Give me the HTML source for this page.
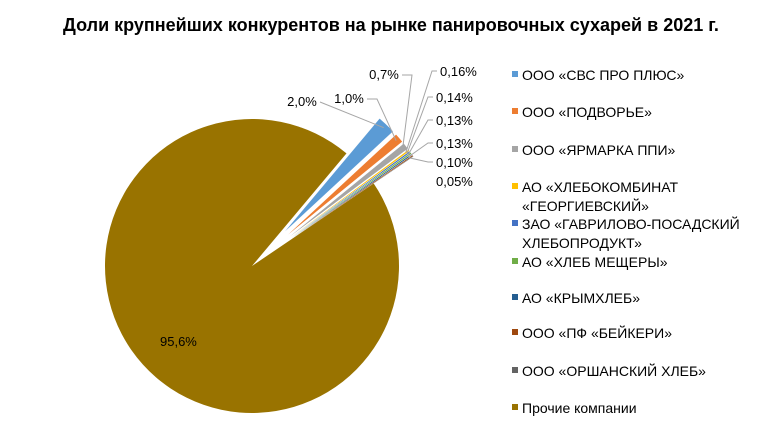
<!DOCTYPE html>
<html><head><meta charset="utf-8"><style>
body{margin:0;background:#fff;width:783px;height:435px;overflow:hidden;font-family:"Liberation Sans",sans-serif}
</style></head><body>
<svg id="chart" width="783" height="435">
<text x="391" y="31" text-anchor="middle" font-size="18" font-weight="bold" fill="#000">Доли крупнейших конкурентов на рынке панировочных сухарей в 2021 г.</text>
<g id="slices"></g><g id="leaders"></g><g id="labels"></g><g id="legend"></g>
</svg>
<script>
const categories=["ООО «СВС ПРО ПЛЮС»","ООО «ПОДВОРЬЕ»","ООО «ЯРМАРКА ППИ»","АО «ХЛЕБОКОМБИНАТ «ГЕОРГИЕВСКИЙ»","ЗАО «ГАВРИЛОВО-ПОСАДСКИЙ ХЛЕБОПРОДУКТ»","АО «ХЛЕБ МЕЩЕРЫ»","АО «КРЫМХЛЕБ»","ООО «ПФ «БЕЙКЕРИ»","ООО «ОРШАНСКИЙ ХЛЕБ»","Прочие компании"];
const values=[2.0,1.0,0.7,0.16,0.14,0.13,0.13,0.10,0.05,95.6];
const valueLabels=["2,0%","1,0%","0,7%","0,16%","0,14%","0,13%","0,13%","0,10%","0,05%","95,6%"];
const colors=["#5b9bd5","#ed7d31","#a5a5a5","#ffc000","#4472c4","#70ad47","#255e91","#9e480e","#636363","#997300"];
const legendLines=[["ООО «СВС ПРО ПЛЮС»"],["ООО «ПОДВОРЬЕ»"],["ООО «ЯРМАРКА ППИ»"],["АО «ХЛЕБОКОМБИНАТ","«ГЕОРГИЕВСКИЙ»"],["ЗАО «ГАВРИЛОВО-ПОСАДСКИЙ","ХЛЕБОПРОДУКТ»"],["АО «ХЛЕБ МЕЩЕРЫ»"],["АО «КРЫМХЛЕБ»"],["ООО «ПФ «БЕЙКЕРИ»"],["ООО «ОРШАНСКИЙ ХЛЕБ»"],["Прочие компании"]];
const NS="http://www.w3.org/2000/svg";
const cx=252,cy=266,R=147,explode=48,startDeg=40;
const labelPos=[[302,106],[349,103],[384,79],[440,76],[436,102],[436,125],[436,148],[436,167],[436,186],[160,346]];
const total=values.reduce((a,b)=>a+b,0);
function pt(x,y,deg,r){const a=(deg-90)*Math.PI/180;return [x+r*Math.cos(a),y+r*Math.sin(a)];}
const gS=document.getElementById('slices'),gL=document.getElementById('labels'),gLd=document.getElementById('leaders'),gG=document.getElementById('legend');
let ang=startDeg;
values.forEach((v,i)=>{
  const sweep=v/total*360,mid=ang+sweep/2;
  const off=i<values.length-1?explode:0;
  const [ox,oy]=pt(cx,cy,mid,off);
  const [x1,y1]=pt(ox,oy,ang,R),[x2,y2]=pt(ox,oy,ang+sweep,R);
  const p=document.createElementNS(NS,'path');
  p.setAttribute('d',`M${ox},${oy}L${x1},${y1}A${R},${R} 0 ${sweep>180?1:0} 1 ${x2},${y2}Z`);
  p.setAttribute('fill',colors[i]);
  
  
  gS.appendChild(p);
  const [lx,ly]=labelPos[i];
  const t=document.createElementNS(NS,'text');
  t.setAttribute('x',lx);t.setAttribute('y',ly);t.setAttribute('font-size','13');t.setAttribute('fill','#000');
  if(i<3)t.setAttribute('text-anchor','middle');
  t.textContent=valueLabels[i];
  
  
  gL.appendChild(t);
  if(i<values.length-1){
    const [ex,ey]=pt(ox,oy,mid,R-4);
    const l=document.createElementNS(NS,'polyline');
    let pts;
    if(i<3) pts=`${lx+18},${ly-4} ${lx+28},${ly-4} ${ex},${ey}`;
    else pts=`${lx-3},${ly-5} ${lx-8},${ly-5} ${ex},${ey}`;
    if(i===0) pts=`${lx+18},${ly-4} ${ex},${ey}`;
    l.setAttribute('points',pts);l.setAttribute('fill','none');l.setAttribute('stroke','#a6a6a6');l.setAttribute('stroke-width','1');
    
    
    if(i<8) gLd.appendChild(l);
  }
  ang+=sweep;
});
const legY=[75,112,150,187,224,262,298,333,371,408];
categories.forEach((c,i)=>{
  const g=document.createElementNS(NS,'g');
  
  
  const r=document.createElementNS(NS,'rect');
  r.setAttribute('x',512);r.setAttribute('y',legY[i]-4);r.setAttribute('width',6);r.setAttribute('height',6);r.setAttribute('fill',colors[i]);
  
  
  g.appendChild(r);
  legendLines[i].forEach((ln,j)=>{
    const t=document.createElementNS(NS,'text');
    t.setAttribute('x',522);t.setAttribute('y',legY[i]+5+j*19);t.setAttribute('font-size','14');t.setAttribute('fill','#000');
    t.textContent=ln;
    
    
    g.appendChild(t);
  });
  gG.appendChild(g);
});
</script>
</body></html>
